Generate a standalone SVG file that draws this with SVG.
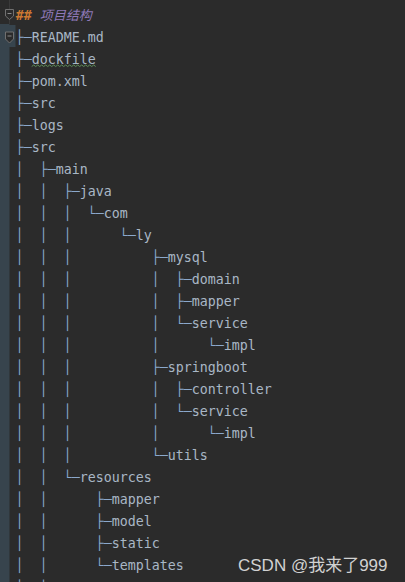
<svg xmlns="http://www.w3.org/2000/svg" width="405" height="582" viewBox="0 0 405 582">
<style>
.t{font-family:"DejaVu Sans Mono","Liberation Mono",monospace;font-size:13.3px;fill:#A9B7C6;white-space:pre}
.c{font-family:"DejaVu Sans Mono","Liberation Mono",monospace;font-size:13.3px;fill:#8AA8CC;white-space:pre}
.fold{fill:#2B2B2B;stroke:#707070;stroke-width:1}
</style>
<rect x="0" y="0" width="405" height="582" fill="#2B2B2B"/>
<g id="gutter">
<rect x="0" y="24" width="9.5" height="558" fill="#37444D"/>
<rect x="0" y="25" width="15.5" height="22" fill="#37444D"/>
<line x1="9.5" y1="0" x2="9.5" y2="24" stroke="#3A3A3A" stroke-width="1"/>
<path class="fold" d="M5.5 9.5 H13.5 V16 L9.5 19.5 L5.5 16 Z"/>
<line x1="7.5" y1="13.5" x2="11.5" y2="13.5" stroke="#8A8A8A" stroke-width="1"/>
<path class="fold" d="M5.5 32 H13.5 V39 L9.5 43 L5.5 39 Z" fill="#37444D"/>
<line x1="7.5" y1="36" x2="11.5" y2="36" stroke="#8A8A8A" stroke-width="1"/>
</g>
<g id="heading">
<text x="15.7" y="19.5" xml:space="preserve"><tspan font-family="DejaVu Sans Mono, monospace" font-size="13.3" font-weight="bold" fill="#CC7832">##</tspan><tspan x="39.7" font-family="Noto Sans CJK SC, sans-serif" font-size="13" font-style="italic" fill="#8E79B8">项目结构</tspan></text>
</g>
<g id="connectors">
<text class="c" x="15.7" y="41.5" xml:space="preserve">├─</text>
<text class="c" x="15.7" y="63.5" xml:space="preserve">├─</text>
<text class="c" x="15.7" y="85.5" xml:space="preserve">├─</text>
<text class="c" x="15.7" y="107.5" xml:space="preserve">├─</text>
<text class="c" x="15.7" y="129.5" xml:space="preserve">├─</text>
<text class="c" x="15.7" y="151.5" xml:space="preserve">├─</text>
<text class="c" x="15.7" y="173.5" xml:space="preserve">│  ├─</text>
<text class="c" x="15.7" y="195.5" xml:space="preserve">│  │  ├─</text>
<text class="c" x="15.7" y="217.5" xml:space="preserve">│  │  │  └─</text>
<text class="c" x="15.7" y="239.5" xml:space="preserve">│  │  │      └─</text>
<text class="c" x="15.7" y="261.5" xml:space="preserve">│  │  │          ├─</text>
<text class="c" x="15.7" y="283.5" xml:space="preserve">│  │  │          │  ├─</text>
<text class="c" x="15.7" y="305.5" xml:space="preserve">│  │  │          │  ├─</text>
<text class="c" x="15.7" y="327.5" xml:space="preserve">│  │  │          │  └─</text>
<text class="c" x="15.7" y="349.5" xml:space="preserve">│  │  │          │      └─</text>
<text class="c" x="15.7" y="371.5" xml:space="preserve">│  │  │          ├─</text>
<text class="c" x="15.7" y="393.5" xml:space="preserve">│  │  │          │  ├─</text>
<text class="c" x="15.7" y="415.5" xml:space="preserve">│  │  │          │  └─</text>
<text class="c" x="15.7" y="437.5" xml:space="preserve">│  │  │          │      └─</text>
<text class="c" x="15.7" y="459.5" xml:space="preserve">│  │  │          └─</text>
<text class="c" x="15.7" y="481.5" xml:space="preserve">│  │  └─</text>
<text class="c" x="15.7" y="503.5" xml:space="preserve">│  │      ├─</text>
<text class="c" x="15.7" y="525.5" xml:space="preserve">│  │      ├─</text>
<text class="c" x="15.7" y="547.5" xml:space="preserve">│  │      ├─</text>
<text class="c" x="15.7" y="569.5" xml:space="preserve">│  │      └─</text>
<text class="c" x="15.7" y="591.5" xml:space="preserve">│  └─</text>
</g>
<g id="n-readme"><text class="t" x="31.7" y="41.5">README.md</text></g>
<g id="n-dockfile"><text class="t" x="31.7" y="63.5">dockfile</text>
<path d="M31.7 66.5 l2 -1.5 l2 1.5 l2 -1.5 l2 1.5 l2 -1.5 l2 1.5 l2 -1.5 l2 1.5 l2 -1.5 l2 1.5 l2 -1.5 l2 1.5 l2 -1.5 l2 1.5 l2 -1.5 l2 1.5 l2 -1.5 l2 1.5 l2 -1.5 l2 1.5 l2 -1.5 l2 1.5 l2 -1.5 l2 1.5 l2 -1.5 l2 1.5 l2 -1.5 l2 1.5 l2 -1.5 l2 1.5 l2 -1.5 l2 1.5" fill="none" stroke="#5F8F5A" stroke-width="1"/></g>
<g id="n-pom"><text class="t" x="31.7" y="85.5">pom.xml</text></g>
<g id="n-src1"><text class="t" x="31.7" y="107.5">src</text></g>
<g id="n-logs"><text class="t" x="31.7" y="129.5">logs</text></g>
<g id="n-src2"><text class="t" x="31.7" y="151.5">src</text></g>
<g id="n-main"><text class="t" x="55.7" y="173.5">main</text></g>
<g id="n-java"><text class="t" x="79.7" y="195.5">java</text></g>
<g id="n-com"><text class="t" x="103.7" y="217.5">com</text></g>
<g id="n-ly"><text class="t" x="135.7" y="239.5">ly</text></g>
<g id="n-mysql"><text class="t" x="167.7" y="261.5">mysql</text></g>
<g id="n-domain"><text class="t" x="191.7" y="283.5">domain</text></g>
<g id="n-mapper1"><text class="t" x="191.7" y="305.5">mapper</text></g>
<g id="n-service1"><text class="t" x="191.7" y="327.5">service</text></g>
<g id="n-impl1"><text class="t" x="223.7" y="349.5">impl</text></g>
<g id="n-springboot"><text class="t" x="167.7" y="371.5">springboot</text></g>
<g id="n-controller"><text class="t" x="191.7" y="393.5">controller</text></g>
<g id="n-service2"><text class="t" x="191.7" y="415.5">service</text></g>
<g id="n-impl2"><text class="t" x="223.7" y="437.5">impl</text></g>
<g id="n-utils"><text class="t" x="167.7" y="459.5">utils</text></g>
<g id="n-resources"><text class="t" x="79.7" y="481.5">resources</text></g>
<g id="n-mapper2"><text class="t" x="111.7" y="503.5">mapper</text></g>
<g id="n-model"><text class="t" x="111.7" y="525.5">model</text></g>
<g id="n-static"><text class="t" x="111.7" y="547.5">static</text></g>
<g id="n-templates"><text class="t" x="111.7" y="569.5">templates</text></g>
<g id="n-test"><text class="t" x="55.7" y="591.5">test</text></g>
<g id="watermark"><text x="238" y="570.5" font-family="Liberation Sans, Noto Sans CJK SC, sans-serif" font-size="17" fill="#D2D2D2">CSDN @我来了999</text></g>
</svg>
